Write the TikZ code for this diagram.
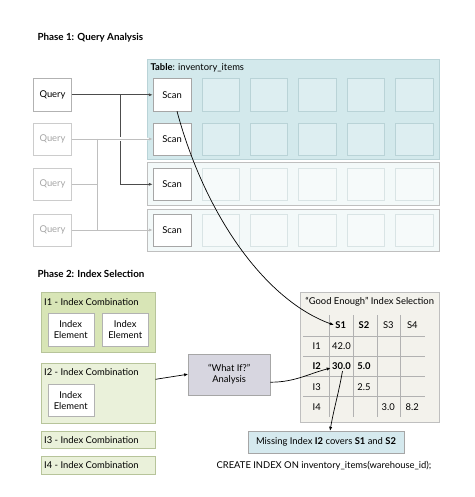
\documentclass[tikz,border=0pt]{standalone}
\usepackage{fontspec}
\setmainfont{Lato}
\usetikzlibrary{arrows.meta}

\definecolor{tealband}{HTML}{D3E9EC}
\definecolor{tealcell}{HTML}{DDEEF1}
\definecolor{tealline}{HTML}{B9D3D7}
\definecolor{paleband}{HTML}{F3F9F9}
\definecolor{palecell}{HTML}{F6FAFA}
\definecolor{paleline}{HTML}{D9E4E5}
\definecolor{greenA}{HTML}{D8E5B6}
\definecolor{greenB}{HTML}{EAF1DA}
\definecolor{greenline}{HTML}{B7C49A}
\definecolor{whatif}{HTML}{D7D6E0}
\definecolor{selfill}{HTML}{F3F2EC}
\definecolor{missfill}{HTML}{D5E9EE}

\begin{document}
\begin{tikzpicture}[x=1pt,y=-1pt,>={Latex[length=4pt,width=3.2pt]},
        font=\fontsize{9.4}{11}\selectfont]
                \useasboundingbox (0,0) rectangle (474,497);
                \tikzstyle{box}=[draw=gray!70,fill=white,minimum width=38pt,minimum height=32.5pt,inner sep=0pt]
                \tikzstyle{cell}=[draw=tealline,fill=tealcell,minimum width=37.5pt,minimum height=32.5pt,inner sep=0pt]
                \tikzstyle{combo}=[draw=greenline,minimum width=114pt,inner sep=0pt]
                \tikzstyle{element}=[draw=gray!60,fill=white,minimum width=46pt,minimum height=32.7pt,inner sep=0pt,align=center]
                \tikzstyle{heading}=[anchor=west,font=\fontsize{9.8}{11}\selectfont\bfseries]
                \tikzstyle{strong}=[font=\fontsize{9.4}{11}\selectfont\bfseries]
                \tikzstyle{dark}=[draw=black!70,line width=0.8pt]
                \tikzstyle{faint}=[draw=black!25,line width=0.8pt]

                % phase 1
                \node[heading] (P-1) at (34,37.5) {Phase 1: Query Analysis};

                \node[draw=tealline,fill=tealband,minimum width=292.6pt,minimum height=100pt] (B-1) at (293,109.3) {};
                \node[draw=black!25,fill=paleband,minimum width=292.6pt,minimum height=43pt] (B-2) at (293,183.8) {};
                \node[draw=black!25,fill=paleband,minimum width=292.6pt,minimum height=42.6pt] (B-3) at (293,230) {};
                \node[anchor=west] (T) at (147,68) {\textbf{Table}: inventory\_items};

                \foreach \num/\y in {1/94.8, 2/139, 3/184.3, 4/230}
                {
                        \node[box] (S-\num) at (172,\y) {Scan};
                        \foreach \col/\x in {1/220.5, 2/268.5, 3/317, 4/365.5, 5/414}
                        {
                                \ifnum\num>2
                                        \node[cell,draw=paleline,fill=palecell] (C-\num-\col) at (\x,\y) {};
                                \else
                                        \node[cell] (C-\num-\col) at (\x,\y) {};
                                \fi
                        }
                }

                \node[box,draw=gray!60] (Q-1) at (52.5,94.8) {Query};
                \foreach \num/\y in {2/139, 3/184.3, 4/230}
                        \node[box,draw=black!20,text=black!35] (Q-\num) at (52.5,\y) {Query};

                \coordinate (J-1) at (120.7,94.8);
                \coordinate (J-2) at (97.7,139);
                \coordinate (J-3) at (97.7,184.3);
                \coordinate (J-4) at (97.7,230);

                \draw[dark,->] (Q-1) -- (S-1);
                \draw[dark,->] (J-1) |- (S-3);
                \draw[faint,->,preaction={draw=white,line width=3.5pt,shorten >=2pt}] (Q-2) -- (S-2);
                \draw[faint] (J-2) -- (J-4);
                \draw[faint] (Q-3) -- (J-3);
                \draw[faint,->] (Q-4) -- (S-4);

                % phase 2
                \node[heading] (P-2) at (34,274) {Phase 2: Index Selection};

                \node[combo,fill=greenA,minimum height=60pt] (I-1) at (98.3,322.3) {};
                \node[combo,fill=greenB,minimum height=60pt] (I-2) at (98.3,393.3) {};
                \node[combo,fill=greenB,minimum height=17.7pt] (I-3) at (98.3,439.8) {};
                \node[combo,fill=greenB,minimum height=17.7pt] (I-4) at (98.3,465.5) {};
                \foreach \num/\y in {1/301.7, 2/372.3, 3/439.8, 4/465.5}
                        \node[anchor=west,inner sep=0pt] (L-\num) at (44,\y) {I\num{} - Index Combination};
                \node[element] (E-1) at (70.7,329.7) {Index\\Element};
                \node[element] (E-2) at (125.2,329.7) {Index\\Element};
                \node[element] (E-3) at (70.7,400.2) {Index\\Element};

                \node[draw=black!35,fill=whatif,minimum width=81.7pt,minimum height=41pt,align=center] (W) at (229.2,374.2) {``What If?''\\Analysis};

                \node[draw=black!25,fill=selfill,minimum width=139.3pt,minimum height=130pt] (G) at (369.7,357.3) {};
                \node (G-title) at (369.7,301.7) {``Good Enough'' Index Selection};
                \foreach \y in {335.7, 355.7, 375.7, 396}
                        \draw[black!30] (303,\y) -- (425,\y);
                \foreach \x in {329.3, 352.7, 376.7, 400}
                        \draw[black!30] (\x,315) -- (\x,417.3);

                \node[strong] (H-1) at (340.7,325) {S1};
                \node[strong] (H-2) at (364,325) {S2};
                \node (H-3) at (388.3,325) {S3};
                \node (H-4) at (412.3,325) {S4};
                \node (R-1) at (316.7,346) {I1};
                \node[strong] (R-2) at (316.7,366) {I2};
                \node (R-3) at (316.7,386.7) {I3};
                \node (R-4) at (316.7,406.7) {I4};
                \node (V-11) at (341.5,346) {42.0};
                \node[strong] (V-21) at (341.5,366) {30.0};
                \node[strong] (V-22) at (364,366) {5.0};
                \node (V-32) at (364,386.7) {2.5};
                \node (V-43) at (388.3,406.7) {3.0};
                \node (V-44) at (412.3,406.7) {8.2};

                \node[draw=black!35,fill=missfill,minimum width=156.6pt,minimum height=22.3pt] (M) at (326,442.2)
                        {Missing Index \textbf{I2} covers \textbf{S1} and \textbf{S2}};
                \node (Q-sql) at (324,465.5) {CREATE INDEX ON inventory\_items(warehouse\_id);};

                \draw[black,line width=0.7pt,->] ([xshift=5pt]S-1.south) .. controls (205,215) and (265,300) .. ([xshift=2pt]H-1.west);
                \draw[black,line width=0.7pt,->] ([yshift=14pt]I-2.east) -- (W.west);
                \draw[black,line width=0.7pt,->] ([yshift=-8pt]W.east) to[out=0,in=195] ([xshift=2pt,yshift=-2pt]V-21.west);
                \draw[black,line width=0.7pt,->] ([xshift=1pt,yshift=2pt]V-21.south) to[out=-100,in=80] ([xshift=4pt]M.north);
\end{tikzpicture}
\end{document}
